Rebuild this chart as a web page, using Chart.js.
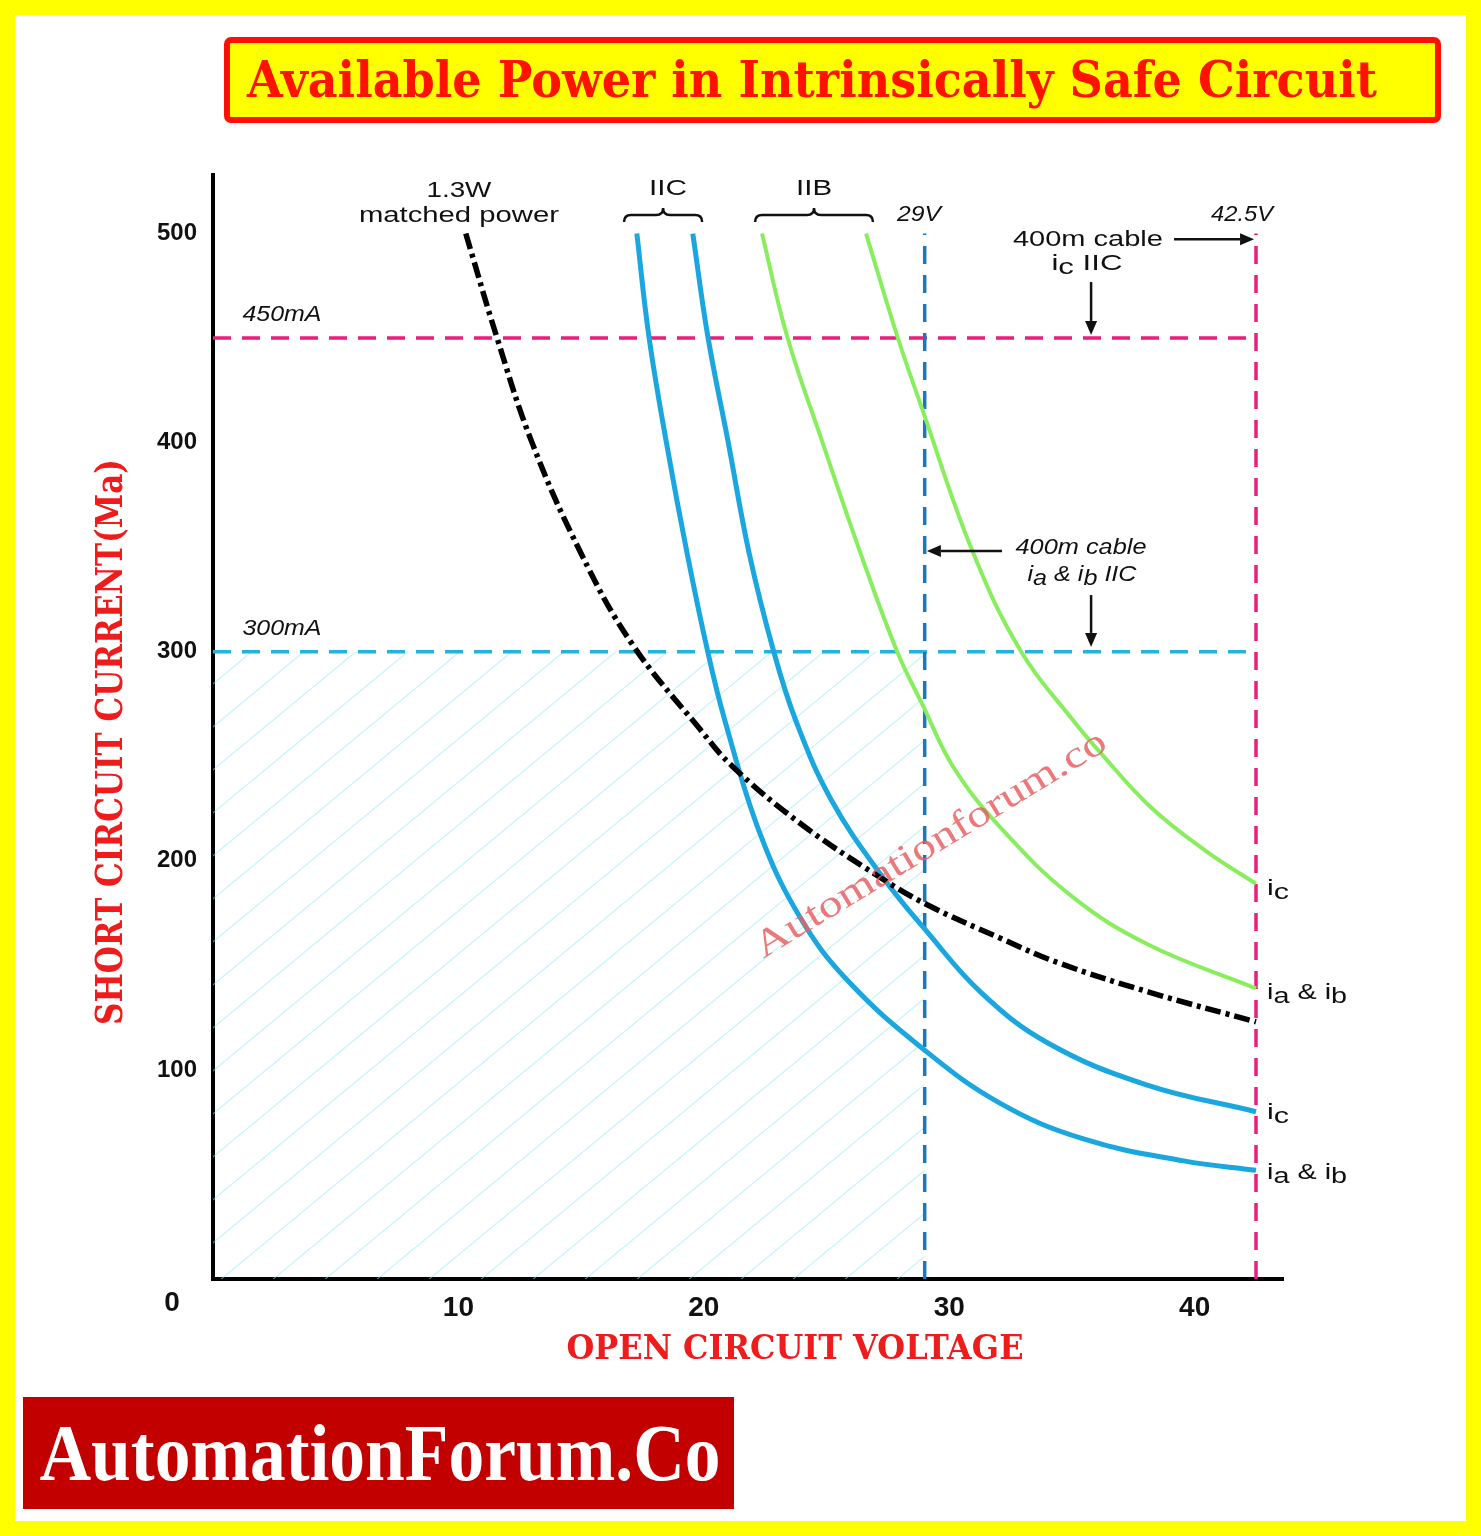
<!DOCTYPE html>
<html><head><meta charset="utf-8">
<script src="https://cdn.jsdelivr.net/npm/chart.js@4.4.1/dist/chart.umd.min.js"></script>
<style>html,body{margin:0;padding:0;background:#ffff00;overflow:hidden}canvas{display:block}</style>
</head><body>
<canvas id="c" width="1481" height="1536"></canvas>
<script>
// ---------- data ----------
const xTicks = [10, 20, 30, 40];
const yTicks = [100, 200, 300, 400, 500];

// 1.3 W matched power curve
const matchedV = [10.3, 11.55, 13, 15, 17.06, 19.84, 21.18, 23.92, 27.06, 29.1, 32.08, 34.5, 38.2, 42.5];
const matchedI = [500, 451, 400, 347, 304, 263, 245, 218, 193, 179, 163, 151, 137, 123];
// IIC ia & ib
const iicAbV = [17.27, 17.76, 18.46, 19.32, 20.16, 20.86, 22.29, 23.92, 25.84, 28.94, 32.08, 35.47, 39.55, 42.5];
const iicAbI = [500, 451, 401, 347, 300, 267, 213, 173, 143, 110, 84, 67, 56.5, 52];
// IIC ic
const iicCV = [19.55, 20.16, 20.98, 21.85, 22.85, 23.75, 25.2, 27.3, 29.1, 31.3, 34.0, 38.0, 42.5];
const iicCI = [500, 451, 401, 347, 300, 267, 229, 192, 166, 137, 113, 93, 80];
// IIB ia & ib
const iibAbV = [22.37, 23.39, 24.81, 26.39, 27.88, 28.94, 30.16, 32.08, 35, 38.1, 42.5];
const iibAbI = [500, 451, 401, 347, 300, 274, 245, 216, 183, 160, 139];
// IIB ic
const iibCV = [26.61, 27.88, 28.9, 30.95, 32.93, 35.06, 36.14, 38.18, 40.42, 42.5];
const iibCI = [500, 451, 416, 348, 300, 267, 252, 226, 205, 189];
// limit lines
const lim450V = [0, 42.5], lim450I = [450, 450];
const lim300V = [0, 42.5], lim300I = [300, 300];
const v29V = [29, 29], v29I = [0, 500];
const v425V = [42.5, 42.5], v425I = [0, 500];
// safe (hatched) area upper edge
const safeV = [0, 29], safeI = [300, 300];

const pts = (xs, ys) => xs.map((x, k) => ({x, y: ys[k]}));

// ---------- hatch pattern ----------
const tile = document.createElement('canvas');
tile.width = 52; tile.height = 43;
{
  const t = tile.getContext('2d');
  t.strokeStyle = 'rgba(150,232,244,0.55)'; t.lineWidth = 1.2;
  [-52, 0, 52].forEach(o => { t.beginPath(); t.moveTo(o, 43); t.lineTo(o + 52, 0); t.stroke(); });
}
const hatch = document.getElementById('c').getContext('2d').createPattern(tile, 'repeat');

// ---------- text helper ----------
function drawParts(ctx, parts, cx, cy, o) {
  if (typeof parts === 'string') parts = [[parts, 0]];
  ctx.save();
  ctx.translate(cx, cy);
  if (o.rot) ctx.rotate(o.rot);
  ctx.font = o.font;
  ctx.textBaseline = o.baseline || 'middle';
  ctx.textAlign = 'left';
  ctx.fillStyle = o.color || '#111';
  const ws = parts.map(p => ctx.measureText(p[0]).width);
  const nat = ws.reduce((a, b) => a + b, 0);
  const sx = o.width ? o.width / nat : (o.sx || 1);
  ctx.scale(sx, 1);
  let x = o.align === 'left' ? 0 : -nat / 2;
  parts.forEach((p, k) => { ctx.fillText(p[0], x, p[1] ? (o.subOff || 4) : 0); x += ws[k]; });
  ctx.restore();
}
function arrow(ctx, x1, y1, x2, y2) {
  const a = Math.atan2(y2 - y1, x2 - x1), L = 14, hw = 6;
  ctx.save();
  ctx.strokeStyle = '#111'; ctx.fillStyle = '#111'; ctx.lineWidth = 2.5;
  ctx.beginPath(); ctx.moveTo(x1, y1);
  ctx.lineTo(x2 - L * Math.cos(a), y2 - L * Math.sin(a)); ctx.stroke();
  ctx.beginPath(); ctx.moveTo(x2, y2);
  ctx.lineTo(x2 - L * Math.cos(a) + hw * Math.sin(a), y2 - L * Math.sin(a) - hw * Math.cos(a));
  ctx.lineTo(x2 - L * Math.cos(a) - hw * Math.sin(a), y2 - L * Math.sin(a) + hw * Math.cos(a));
  ctx.closePath(); ctx.fill();
  ctx.restore();
}
function brace(ctx, x1, x2, y) {
  const m = (x1 + x2) / 2, r = 7;
  ctx.save(); ctx.strokeStyle = '#111'; ctx.lineWidth = 2.5;
  ctx.beginPath();
  ctx.moveTo(x1, y + r);
  ctx.quadraticCurveTo(x1, y, x1 + r, y);
  ctx.lineTo(m - r, y);
  ctx.quadraticCurveTo(m, y, m, y - r);
  ctx.quadraticCurveTo(m, y, m + r, y);
  ctx.lineTo(x2 - r, y);
  ctx.quadraticCurveTo(x2, y, x2, y + r);
  ctx.stroke(); ctx.restore();
}

const SANS = '"Liberation Sans", Arial, Helvetica, sans-serif';
const SERIF = '"Liberation Serif", "Times New Roman", serif';
const SLAB = '"DejaVu Serif", serif';

// annotations placed in data units
const notes = [
  {t: '1.3W', v: 10.02, i: 520.3, w: 65},
  {t: 'matched power', v: 10.02, i: 508.4, w: 200},
  {t: 'IIC', v: 18.54, i: 521.3, w: 38},
  {t: 'IIB', v: 24.49, i: 521.3, w: 36},
  {t: '29V', v: 28.77, i: 508.9, w: 44, it: true},
  {t: '42.5V', v: 41.93, i: 508.9, w: 62, it: true},
  {t: '400m cable', v: 35.65, i: 496.9, w: 150},
  {t: [['i', 0], ['c', 1], [' IIC', 0]], v: 35.61, i: 485.5, w: 71},
  {t: '450mA', v: 2.81, i: 461.1, w: 79, it: true},
  {t: '300mA', v: 2.81, i: 310.9, w: 79, it: true},
  {t: '400m cable', v: 35.37, i: 349.6, w: 131, it: true},
  {t: [['i', 0], ['a', 1], [' & ', 0], ['i', 0], ['b', 1], [' IIC', 0]], v: 35.41, i: 336.7, w: 109, it: true},
  {t: [['i', 0], ['c', 1]], v: 42.95, i: 186.5, w: 22, left: true},
  {t: [['i', 0], ['a', 1], [' & ', 0], ['i', 0], ['b', 1]], v: 42.95, i: 136.8, w: 80, left: true},
  {t: [['i', 0], ['c', 1]], v: 42.95, i: 79.4, w: 22, left: true},
  {t: [['i', 0], ['a', 1], [' & ', 0], ['i', 0], ['b', 1]], v: 42.95, i: 50.7, w: 80, left: true},
];
const arrows = [
  [39.16, 497.3, 42.42, 497.3],
  [35.78, 476.8, 35.78, 451.5],
  [32.15, 348.2, 29.09, 348.2],
  [35.78, 327.1, 35.78, 302.3],
];
const braces = [[16.75, 19.93, 508.9], [22.09, 26.89, 508.9]];

const decor = {
  id: 'decor',
  beforeDraw(chart) {
    const ctx = chart.ctx;
    ctx.save();
    ctx.fillStyle = '#ffff00'; ctx.fillRect(0, 0, 1481, 1536);
    ctx.fillStyle = '#ffffff'; ctx.fillRect(15, 15, 1451, 1506);
    // title box
    ctx.fillStyle = '#ffff00'; ctx.strokeStyle = '#ff1000'; ctx.lineWidth = 6;
    ctx.beginPath(); ctx.roundRect(227, 40, 1211, 80, 4); ctx.fill(); ctx.stroke();
    drawParts(ctx, 'Available Power in Intrinsically Safe Circuit', 812, 97,
      {font: 'bold 51px ' + SLAB, color: '#ff1200', width: 1130, baseline: 'alphabetic'});
    // logo
    ctx.fillStyle = '#c20000'; ctx.fillRect(23, 1397, 711, 112);
    drawParts(ctx, 'AutomationForum.Co', 380, 1480,
      {font: 'bold 80px ' + SERIF, color: '#ffffff', width: 681, baseline: 'alphabetic'});
    ctx.restore();
  },
  afterDraw(chart) {
    const ctx = chart.ctx, X = chart.scales.x, Y = chart.scales.y;
    const px = v => X.getPixelForValue(v), py = i => Y.getPixelForValue(i);
    // axis titles
    drawParts(ctx, 'OPEN CIRCUIT VOLTAGE', 795, 1350, {font: 'bold 34px ' + SLAB, color: '#ee1c1c', width: 457});
    drawParts(ctx, 'SHORT CIRCUIT CURRENT(Ma)', 112, 742, {font: 'bold 38px ' + SLAB, color: '#ee1c1c', width: 566, rot: -Math.PI / 2});
    // origin label
    drawParts(ctx, '0', px(-1.67), py(-11.5), {font: 'bold 28px ' + SANS, color: '#111'});
    // notes
    notes.forEach(n => drawParts(ctx, n.t, px(n.v), py(n.i), {
      font: (n.it ? 'italic ' : '') + '22px ' + SANS, width: n.w, align: n.left ? 'left' : 'center', subOff: 4
    }));
    arrows.forEach(a => arrow(ctx, px(a[0]), py(a[1]), px(a[2]), py(a[3])));
    braces.forEach(b => brace(ctx, px(b[0]), px(b[1]), py(b[2])));
    // watermark
    drawParts(ctx, 'Automationforum.co', px(29.26), py(207.6),
      {font: '38px ' + SERIF, color: 'rgba(232,96,100,0.85)', width: 405, rot: -31.3 * Math.PI / 180});
  }
};

const curve = (data, color, w, dash) => ({
  data, borderColor: color, borderWidth: w, borderDash: dash || [],
  showLine: true, pointRadius: 0, fill: false, tension: 0.4, borderCapStyle: 'butt', borderJoinStyle: 'round'
});
const straight = (data, color, w, dash) => ({
  data, borderColor: color, borderWidth: w, borderDash: dash,
  showLine: true, pointRadius: 0, fill: false, tension: 0
});

new Chart(document.getElementById('c'), {
  type: 'scatter',
  data: {
    datasets: [
      curve(pts(matchedV, matchedI), '#000000', 5.5, [16, 5, 4, 5]),
      curve(pts(iicAbV, iicAbI), '#1aa6de', 5),
      curve(pts(iicCV, iicCI), '#1aa6de', 5),
      curve(pts(iibAbV, iibAbI), '#88ee5e', 4),
      curve(pts(iibCV, iibCI), '#88ee5e', 4),
      straight(pts(v29V, v29I), '#1a78bb', 3.5, [18, 11]),
      straight(pts(v425V, v425I), '#ee1c7c', 3.5, [18, 11]),
      straight(pts(lim450V, lim450I), '#ee1c7c', 3.5, [18, 11]),
      straight(pts(lim300V, lim300I), '#22b4dc', 3.5, [18, 11]),
      {data: pts(safeV, safeI), showLine: true, pointRadius: 0, borderWidth: 0, borderColor: 'rgba(0,0,0,0)',
       backgroundColor: hatch, fill: 'origin', tension: 0}
    ]
  },
  options: {
    responsive: false, animation: false, devicePixelRatio: 1,
    layout: {padding: {left: 153, top: 175, right: 198, bottom: 200}},
    plugins: {legend: {display: false}, tooltip: {enabled: false}},
    scales: {
      x: {
        type: 'linear', min: 0, max: 43.6,
        afterFit: s => { s.height = 57; },
        afterBuildTicks: s => { s.ticks = xTicks.map(v => ({value: v})); },
        grid: {display: false, drawTicks: false},
        border: {display: true, color: '#000', width: 4},
        ticks: {color: '#111', font: {family: SANS, size: 28, weight: 'bold'}, padding: 12, maxRotation: 0, autoSkip: false}
      },
      y: {
        type: 'linear', min: 0, max: 528,
        afterFit: s => { s.width = 60; },
        afterBuildTicks: s => { s.ticks = yTicks.map(v => ({value: v})); },
        grid: {display: false, drawTicks: false},
        border: {display: true, color: '#000', width: 4},
        ticks: {color: '#111', font: {family: SANS, size: 24, weight: 'bold'}, padding: 16, autoSkip: false}
      }
    }
  },
  plugins: [decor]
});
</script>
</body></html>
